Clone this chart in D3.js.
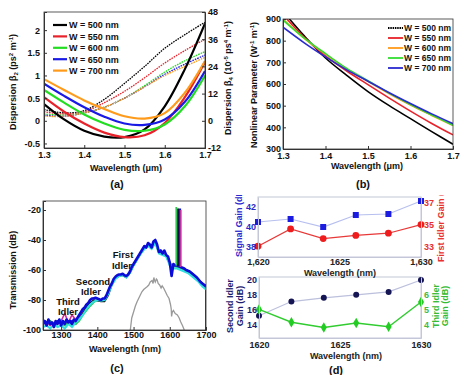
<!DOCTYPE html>
<html>
<head>
<meta charset="utf-8">
<script src="https://cdn.jsdelivr.net/npm/d3@7"></script>
<style>
body { margin: 0; background: #fff; }
svg text { font-family: "Liberation Sans", Arial, sans-serif; font-weight: bold; }
</style>
</head>
<body>
<script>

// ---------- (a) dispersion ----------
var widthNames = ["W = 500 nm", "W = 550 nm", "W = 600 nm", "W = 650 nm", "W = 700 nm"];
var colorsA = ["#000000", "#e8222a", "#22dd22", "#1a1ae6", "#ff9a1a"];
var lamA = [1.30, 1.35, 1.40, 1.45, 1.50, 1.55, 1.60, 1.65, 1.70];
var beta2 = [
	[0.37, 0.03, -0.22, -0.35, -0.36, -0.19, 0.32, 1.14, 2.15],
	[0.52, 0.20, -0.06, -0.26, -0.36, -0.32, -0.05, 0.52, 1.30],
	[0.68, 0.40, 0.14, -0.06, -0.20, -0.22, -0.08, 0.32, 1.00],
	[0.82, 0.55, 0.30, 0.09, -0.06, -0.09, 0.03, 0.42, 1.10],
	[0.92, 0.68, 0.45, 0.26, 0.10, 0.05, 0.17, 0.62, 1.32]
];
// beta4 in 10^-5 ps^4/m (right axis)
var beta4 = [
	[5, 3.5, 4.5, 9.5, 16.5, 24, 32, 38, 43.5],
	[4, 3, 4, 8, 13, 19, 25.5, 31, 36],
	[3, 2.5, 3.5, 6, 10, 15.5, 21.5, 26.5, 30.5],
	[2.5, 2, 3.5, 6, 10, 15, 20.5, 25, 29],
	[2, 2, 3.5, 6, 10, 15, 20, 24, 28]
];
var aXTicks = [1.3, 1.4, 1.5, 1.6, 1.7];
var aLeftTicks = [-0.5, 0, 0.5, 1, 1.5, 2];
var aLeftLabels = ["-0.5", "0", "0.5", "1", "1.5", "2"];
var aRightTicks = [-12, 0, 12, 24, 36, 48];
var aRightLabels = ["-12", "0", "12", "24", "36", "48"];

// ---------- (b) nonlinear parameter ----------
var colorsB = ["#000000", "#e8222a", "#ff9a1a", "#33dd33", "#2a2ad0"];
var gammaB = [
	[935, 822, 720, 640, 565, 500, 440, 380, 322],
	[920, 815, 730, 660, 597, 535, 475, 418, 365],
	[900, 810, 738, 670, 612, 555, 503, 455, 408],
	[895, 812, 740, 672, 615, 558, 505, 457, 410],
	[862, 790, 725, 665, 613, 560, 510, 462, 417]
];
var bYTicks = [300, 400, 500, 600, 700, 800, 900];

// ---------- (c) transmission spectra ----------
var lamBlue = d3.range(1250, 1701, 5);
var specBlue = [-96, -94, -97, -93, -96, -95, -98, -94, -96, -93,
	-97, -94, -96, -93, -95, -94, -96, -93, -94, -92,
	-90, -88, -86, -85, -83, -82, -80, -79, -79, -78.5,
	-79, -79.5, -80, -79, -79, -77, -74, -71, -69, -66,
	-64.5, -63.5, -63, -63, -62.5, -63.5, -64, -63, -61, -58,
	-56, -54, -52, -50, -48, -46, -44, -45, -42, -43,
	-45, -41, -40, -43, -48, -47, -49, -47, -50, -51,
	-55, -64, -56, -57, -57, -57.5, -58, -58.5, -59, -60,
	-60.5, -61, -62, -63, -64, -65, -66.5, -68, -69, -70, -71];
var lamTen = d3.range(1250, 1701, 10);
var specCyan = [-98, -97, -99, -96, -98, -97, -99, -96, -98, -95,
	-93, -90, -86, -83, -81, -80, -80.5, -80, -76, -70,
	-66, -64, -63.5, -65, -62, -57, -53, -49, -46, -44,
	-46, -42, -49, -50, -51, -57, -59, -59, -60, -61,
	-62, -64, -66, -68, -71, -73];
var specGreen = [-95, -96, -94, -97, -95, -96, -97, -95, -96, -96,
	-94, -90, -87, -84, -81.5, -80, -80, -80, -75, -69,
	-65, -63.5, -63, -64.5, -61.5, -56.5, -52.5, -48.5, -45, -43,
	-45.5, -41, -48.5, -49.5, -50.5, -56, -57.5, -58, -59, -60,
	-61, -62.5, -64.5, -67, -69.5, -72];
var specBlack = [-93, -95, -94, -96, -94, -95, -96, -95, -94, -96,
	-93, -89, -85, -82, -80, -80.5, -81, -81, -77, -70,
	-65.5, -64, -63.5, -65, -62, -57, -53, -49, -45.5, -43.5,
	-45.5, -41.5, -48.5, -49.5, -50.5, -56, -57, -57.5, -58.5, -59.5,
	-60.5, -62, -64, -66.5, -69, -70.5];
var specMagenta = [-96, -95, -97, -95, -96, -94, -89, -95, -90, -93,
	-91, -88, -84, -80, -78.5, -79, -80, -79.5, -75, -69,
	-65, -63.5, -63, -64.5, -61.5, -56.5, -52.5, -48.5, -45, -43,
	-45, -41, -48, -49.5, -50.5, -56, -57, -57.5, -58, -59.5,
	-60.5, -62, -64, -66.5, -69, -71];
var lamGrey = [1491, 1495, 1500, 1505, 1510, 1514, 1518, 1523, 1528, 1533,
	1538, 1542, 1546, 1551, 1554, 1556, 1558, 1560, 1563, 1565,
	1568, 1572, 1576, 1579, 1583, 1588, 1593, 1598, 1602, 1604,
	1605, 1607, 1610, 1615, 1621, 1626, 1630, 1635, 1640];
var specGrey = [-100, -92, -88, -84, -81, -79, -77, -74.5, -73, -72,
	-71, -70, -68, -67, -69, -65, -67, -68, -66, -66.5,
	-69, -70, -72, -70.5, -72, -74.5, -77, -79, -83, -86,
	-91, -88, -87, -89, -90, -92, -94.5, -97, -100];
var pumpLam = [1618, 1623, 1628, 1630];
var pumpBase = [-57, -57.5, -58, -58];
var pumpPeak = [-18, -19, -19, -20];
var pumpColors = ["#2ec850", "#111111", "#1010d0", "#c030a0"];
var cXTicks = [1300, 1400, 1500, 1600, 1700];
var cYTicks = [-100, -80, -60, -40, -20];

// ---------- (d) gains ----------
var lamD = [1620, 1622, 1624, 1626, 1628, 1630];
var signalGain = [40.5, 40.8, 40.0, 41.2, 41.3, 42.6];
var idler1Gain = [33.0, 34.6, 33.7, 34.0, 34.2, 35.0];
var idler2Gain = [15.2, 17.1, 17.6, 18.0, 18.4, 20.0];
var idler3Gain = [5.0, 4.15, 3.8, 4.1, 3.85, 5.5];
var dXTicks = [1620, 1625, 1630];
var dTopXLabels = ["1,620", "1625", "1,630"];
var dBotXLabels = ["1620", "1625", "1630"];


var svg = d3.select("body").append("svg")
	.attr("width", 474)
	.attr("height", 375);
svg.append("rect").attr("width", 474).attr("height", 375).attr("fill", "#fff");

var defs = svg.append("defs");
function addClip(id, x, y, w, h) {
	defs.append("clipPath").attr("id", id)
		.append("rect").attr("x", x).attr("y", y).attr("width", w).attr("height", h);
}

// style the d3 axis ticks like the matlab ones
function styleAxis(g, textColor, lineColor) {
	g.attr("font-family", null).attr("font-size", null);
	g.select(".domain").attr("stroke", lineColor);
	g.selectAll(".tick line").attr("stroke", lineColor);
	g.selectAll("text").attr("fill", textColor).style("font-size", "9px");
}
var plain = function (d) { return String(d); };

// text with sub / superscripts, parts = [text, "sub"|"sup"|null, dy]
function richText(x, y, rotate, parts, size, color) {
	var t = svg.append("text")
		.attr("transform", "translate(" + x + "," + y + ")" + (rotate ? " rotate(-90)" : ""))
		.attr("text-anchor", "middle")
		.attr("fill", color || "#111")
		.style("font-size", size + "px");
	parts.forEach(function (p) {
		var s = t.append("tspan").text(p[0]);
		if (p[1] == "sup") s.attr("dy", -3).style("font-size", (size - 3) + "px");
		if (p[1] == "sub") s.attr("dy", 2).style("font-size", (size - 3) + "px");
		if (p[2]) s.attr("dy", p[2]);
	});
	return t;
}

function plainText(x, y, str, size, color, rotate) {
	return svg.append("text")
		.attr("transform", "translate(" + x + "," + y + ")" + (rotate ? " rotate(-90)" : ""))
		.attr("text-anchor", "middle")
		.attr("fill", color || "#111")
		.style("font-size", size + "px")
		.text(str);
}

// ================= panel (a) =================
var xA = d3.scaleLinear().domain([1.3, 1.7]).range([44, 205]);
var yA = d3.scaleLinear().domain([-0.6, 2.4]).range([148, 12]);
var yA4 = d3.scaleLinear().domain([-12, 48]).range([148, 12]);
addClip("clipA", 44, 12, 161, 136);

var gA = svg.append("g").attr("clip-path", "url(#clipA)");
beta4.forEach(function (vals, k) {
	var line = d3.line()
		.x(function (d, i) { return xA(lamA[i]); })
		.y(function (d) { return yA4(d); })
		.curve(d3.curveCatmullRom);
	gA.append("path").datum(vals)
		.attr("fill", "none")
		.attr("stroke", colorsA[k])
		.attr("stroke-width", 1.3)
		.attr("stroke-dasharray", "1.6,1")
		.attr("d", line);
});
beta2.forEach(function (vals, k) {
	var line = d3.line()
		.x(function (d, i) { return xA(lamA[i]); })
		.y(function (d) { return yA(d); })
		.curve(d3.curveCatmullRom);
	gA.append("path").datum(vals)
		.attr("fill", "none")
		.attr("stroke", colorsA[k])
		.attr("stroke-width", 2.2)
		.attr("d", line);
});

svg.append("rect").attr("x", 44).attr("y", 12).attr("width", 161).attr("height", 136)
	.attr("fill", "none").attr("stroke", "#333").attr("stroke-width", 0.8);

svg.append("g").attr("transform", "translate(0,148)")
	.call(d3.axisBottom(xA).tickValues(aXTicks).tickFormat(d3.format(".1f")).tickSize(-3).tickPadding(4))
	.call(styleAxis, "#111", "#333");
svg.append("g").attr("transform", "translate(44,0)")
	.call(d3.axisLeft(yA).tickValues(aLeftTicks).tickFormat(function (d, i) { return aLeftLabels[i]; }).tickSize(-3).tickPadding(4))
	.call(styleAxis, "#111", "#333");
svg.append("g").attr("transform", "translate(205,0)")
	.call(d3.axisRight(yA4).tickValues(aRightTicks).tickFormat(function (d, i) { return aRightLabels[i]; }).tickSize(-3).tickPadding(3))
	.call(styleAxis, "#111", "#333");

// legend (a)
widthNames.forEach(function (name, k) {
	var yy = 25 + k * 11.4;
	svg.append("line").attr("x1", 53).attr("x2", 67).attr("y1", yy).attr("y2", yy)
		.attr("stroke", colorsA[k]).attr("stroke-width", 2.2);
	svg.append("text").attr("x", 69).attr("y", yy + 3.3).style("font-size", "9px").attr("fill", "#111").text(name);
});

richText(16, 82, true, [["Dispersion  \u03b2"], ["2", "sub"], [" (ps", null, -2], ["2", "sup"], [" m", null, 3], ["-1", "sup"], [")", null, 3]], 9);
richText(231, 78, true, [["Dispersion  \u03b2"], ["4", "sub"], [" (10", null, -2], ["-5", "sup"], [" ps", null, 3], ["4", "sup"], [" m", null, 3], ["-1", "sup"], [")", null, 3]], 9);
richText(126, 171, false, [["Wavelength (\u03bcm)"]], 9);
plainText(117, 188, "(a)", 11);

// ================= panel (b) =================
var xB = d3.scaleLinear().domain([1.3, 1.7]).range([283, 453]);
var yB = d3.scaleLinear().domain([300, 900]).range([149, 19]);
addClip("clipB", 283, 19, 170, 130);

var gB = svg.append("g").attr("clip-path", "url(#clipB)");
gammaB.forEach(function (vals, k) {
	var line = d3.line()
		.x(function (d, i) { return xB(lamA[i]); })
		.y(function (d) { return yB(d); })
		.curve(d3.curveCatmullRom);
	gB.append("path").datum(vals)
		.attr("fill", "none")
		.attr("stroke", colorsB[k])
		.attr("stroke-width", 1.6)
		.attr("d", line);
});

svg.append("rect").attr("x", 283).attr("y", 19).attr("width", 170).attr("height", 130)
	.attr("fill", "none").attr("stroke", "#333").attr("stroke-width", 0.8);
svg.append("g").attr("transform", "translate(0,149)")
	.call(d3.axisBottom(xB).tickValues(aXTicks).tickFormat(d3.format(".1f")).tickSize(-3).tickPadding(4))
	.call(styleAxis, "#111", "#333");
svg.append("g").attr("transform", "translate(283,0)")
	.call(d3.axisLeft(yB).tickValues(bYTicks).tickFormat(plain).tickSize(-3).tickPadding(2))
	.call(styleAxis, "#111", "#333");

widthNames.forEach(function (name, k) {
	var yy = 28 + k * 10;
	svg.append("line").attr("x1", 388).attr("x2", 403).attr("y1", yy).attr("y2", yy)
		.attr("stroke", colorsB[k]).attr("stroke-width", 1.8)
		.attr("stroke-dasharray", k == 0 ? "1.5,0.8" : null);
	svg.append("text").attr("x", 404).attr("y", yy + 3.2).style("font-size", "8.5px").attr("fill", "#111").text(name);
});

richText(257, 85, true, [["Nonlinear Parameter (W"], ["-1", "sup"], [" m", null, 3], ["-1", "sup"], [")", null, 3]], 9);
richText(367, 169, false, [["Wavelength (\u03bcm)"]], 9);
plainText(363, 188, "(b)", 11);

// ================= panel (c) =================
var xC = d3.scaleLinear().domain([1250, 1700]).range([43, 206]);
var yC = d3.scaleLinear().domain([-100, -14]).range([330, 201]);
addClip("clipC", 43, 201, 163, 129);

var gC = svg.append("g").attr("clip-path", "url(#clipC)");
function specLine(lams) {
	return d3.line()
		.x(function (d, i) { return xC(lams[i]); })
		.y(function (d) { return yC(d); });
}
gC.append("path").datum(specGrey).attr("fill", "none").attr("stroke", "#9a9a9a").attr("stroke-width", 1.3).attr("d", specLine(lamGrey));
gC.append("path").datum(specMagenta).attr("fill", "none").attr("stroke", "#d0309a").attr("stroke-width", 1.6).attr("d", specLine(lamTen));
gC.append("path").datum(specBlack.concat([-100])).attr("fill", "none").attr("stroke", "#111").attr("stroke-width", 1.6).attr("d", specLine(lamTen.concat([1700])));
gC.append("path").datum(specGreen).attr("fill", "none").attr("stroke", "#2ec850").attr("stroke-width", 1.8).attr("d", specLine(lamTen));
gC.append("path").datum(specCyan).attr("fill", "none").attr("stroke", "#30e0e0").attr("stroke-width", 2).attr("d", specLine(lamTen));
gC.append("path").datum(specBlue).attr("fill", "none").attr("stroke", "#0c0cd8").attr("stroke-width", 2.6).attr("stroke-linejoin", "round").attr("d", specLine(lamBlue));

pumpLam.forEach(function (l, k) {
	gC.append("line")
		.attr("x1", xC(l)).attr("x2", xC(l))
		.attr("y1", yC(pumpBase[k])).attr("y2", yC(pumpPeak[k]))
		.attr("stroke", pumpColors[k]).attr("stroke-width", k == 2 ? 2.4 : 1.8);
});

svg.append("rect").attr("x", 43).attr("y", 201).attr("width", 163).attr("height", 129)
	.attr("fill", "none").attr("stroke", "#333").attr("stroke-width", 0.8);
svg.append("g").attr("transform", "translate(0,330)")
	.call(d3.axisBottom(xC).tickValues(cXTicks).tickFormat(plain).tickSize(-3).tickPadding(2))
	.call(styleAxis, "#111", "#333");
svg.append("g").attr("transform", "translate(43,0)")
	.call(d3.axisLeft(yC).tickValues(cYTicks).tickFormat(plain).tickSize(-3).tickPadding(2))
	.call(styleAxis, "#111", "#333");

plainText(123, 258, "First", 9.5);
plainText(122, 268.5, "Idler", 9.5);
plainText(93, 285, "Second", 9.5);
plainText(91, 295, "Idler", 9.5);
plainText(68, 305, "Third", 9.5);
plainText(68, 315, "Idler", 9.5);

plainText(16, 270, "Transmission (dB)", 9, "#111", true);
plainText(125, 352, "Wavelength (nm)", 9);
plainText(117, 372, "(c)", 11);

// ================= panel (d) =================
addClip("clipD", 220, 195, 254, 180);
var gD = svg.append("g").attr("clip-path", "url(#clipD)");

var xD1 = d3.scaleLinear().domain([1620, 1630]).range([258, 421]);
var ySig = d3.scaleLinear().domain([37, 43]).range([257, 197]);
var yId1 = d3.scaleLinear().domain([32, 37.55]).range([257, 197]);
var xD2 = d3.scaleLinear().domain([1620, 1630]).range([259, 421]);
var yId2 = d3.scaleLinear().domain([12.2, 20.4]).range([338, 277]);
var yId3 = d3.scaleLinear().domain([3.1, 7.16]).range([338, 277]);

function gainLine(xs, ys) {
	return d3.line().x(function (d, i) { return xs(lamD[i]); }).y(function (d) { return ys(d); });
}

// top subplot
gD.append("rect").attr("x", 258).attr("y", 197).attr("width", 163).attr("height", 60)
	.attr("fill", "none").attr("stroke", "#c4c7d8").attr("stroke-width", 1);
gD.append("path").datum(signalGain).attr("fill", "none").attr("stroke", "#b7bfee").attr("stroke-width", 1.2).attr("d", gainLine(xD1, ySig));
gD.selectAll(".sq").data(signalGain).enter().append("rect")
	.attr("x", function (d, i) { return xD1(lamD[i]) - 3; })
	.attr("y", function (d) { return ySig(d) - 3; })
	.attr("width", 6).attr("height", 6).attr("fill", "#1c1ce0");
gD.append("path").datum(idler1Gain).attr("fill", "none").attr("stroke", "#e83838").attr("stroke-width", 1.2).attr("d", gainLine(xD1, yId1));
gD.selectAll(".c1").data(idler1Gain).enter().append("circle")
	.attr("cx", function (d, i) { return xD1(lamD[i]); })
	.attr("cy", function (d) { return yId1(d); })
	.attr("r", 3.4).attr("fill", "#ee1c1c");

gD.append("g").attr("transform", "translate(0,257)")
	.call(d3.axisBottom(xD1).tickValues(dXTicks).tickFormat(function (d, i) { return dTopXLabels[i]; }).tickSize(0).tickPadding(2))
	.call(styleAxis, "#222", "#c4c7d8");
gD.append("g").attr("transform", "translate(258,0)")
	.call(d3.axisLeft(ySig).tickValues([38, 40, 42]).tickFormat(plain).tickSize(0).tickPadding(2))
	.call(styleAxis, "#2a2ac8", "#c4c7d8");
gD.append("g").attr("transform", "translate(421,0)")
	.call(d3.axisRight(yId1).tickValues([33, 35, 37]).tickFormat(plain).tickSize(0).tickPadding(3))
	.call(styleAxis, "#e83030", "#c4c7d8");

// bottom subplot
gD.append("rect").attr("x", 259).attr("y", 277).attr("width", 162).attr("height", 61)
	.attr("fill", "none").attr("stroke", "#c4c7d8").attr("stroke-width", 1);
gD.append("path").datum(idler2Gain).attr("fill", "none").attr("stroke", "#bcc0dc").attr("stroke-width", 1.2).attr("d", gainLine(xD2, yId2));
gD.selectAll(".c2").data(idler2Gain).enter().append("circle")
	.attr("cx", function (d, i) { return xD2(lamD[i]); })
	.attr("cy", function (d) { return yId2(d); })
	.attr("r", 3).attr("fill", "#151554");
gD.append("path").datum(idler3Gain).attr("fill", "none").attr("stroke", "#30cc30").attr("stroke-width", 1.4).attr("d", gainLine(xD2, yId3));
gD.selectAll(".dm").data(idler3Gain).enter().append("path")
	.attr("transform", function (d, i) { return "translate(" + xD2(lamD[i]) + "," + yId3(d) + ")"; })
	.attr("d", d3.symbol().type(d3.symbolDiamond).size(32))
	.attr("fill", "#22cc22");

gD.append("g").attr("transform", "translate(0,338)")
	.call(d3.axisBottom(xD2).tickValues(dXTicks).tickFormat(function (d, i) { return dBotXLabels[i]; }).tickSize(0).tickPadding(4))
	.call(styleAxis, "#222", "#c4c7d8");
gD.append("g").attr("transform", "translate(259,0)")
	.call(d3.axisLeft(yId2).tickValues([14, 16, 18, 20]).tickFormat(plain).tickSize(0).tickPadding(2))
	.call(styleAxis, "#1c1c70", "#c4c7d8");
gD.append("g").attr("transform", "translate(421,0)")
	.call(d3.axisRight(yId3).tickValues([4, 5, 6]).tickFormat(plain).tickSize(0).tickPadding(3))
	.call(styleAxis, "#44bb44", "#c4c7d8");

// axis titles (d), drawn into the clipped group
function dText(x, y, str, color, rotate) {
	return gD.append("text")
		.attr("transform", "translate(" + x + "," + y + ")" + (rotate ? " rotate(-90)" : ""))
		.attr("text-anchor", "middle")
		.attr("fill", color)
		.style("font-size", "9px")
		.text(str);
}
dText(242, 222, "Signal Gain (dB)", "#2a2ad0", true);
dText(444, 220, "First Idler Gain (dB)", "#e83030", true);
dText(340, 275.5, "Wavelength (nm)", "#222", false);
dText(233, 306, "Second Idler", "#1c1c70", true);
dText(243, 306, "Gain (dB)", "#1c1c70", true);
dText(439, 306, "Third Idler", "#33bb33", true);
dText(448, 306, "Gain (dB)", "#33bb33", true);
dText(346, 359, "Wavelength (nm)", "#222", false);
dText(336, 374, "(d)", "#111", false).style("font-size", "11px");

</script>
</body>
</html>
